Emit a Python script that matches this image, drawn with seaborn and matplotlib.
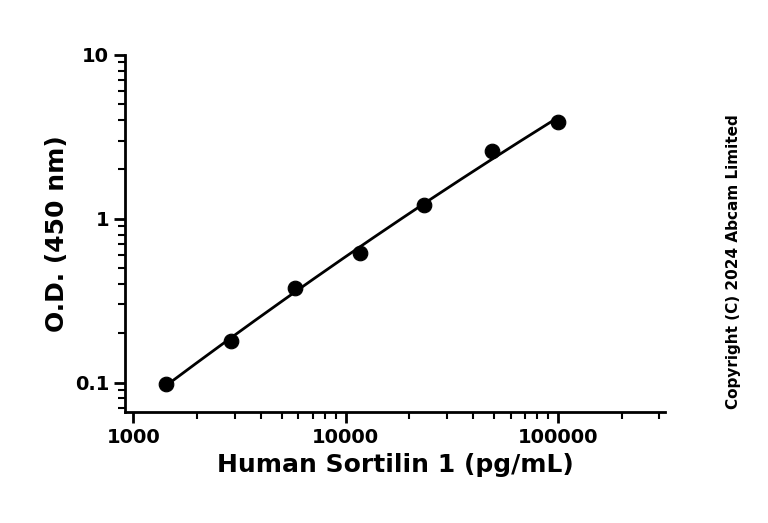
import numpy as np
import matplotlib
matplotlib.use("Agg")
import matplotlib.pyplot as plt
import seaborn as sns
from matplotlib.ticker import FixedLocator, FixedFormatter

sns.set_style("ticks")
plt.rcParams['font.family'] = ['DejaVu Sans']
plt.rcParams['text.color'] = 'black'
plt.rcParams['axes.labelcolor'] = 'black'
plt.rcParams['xtick.color'] = 'black'
plt.rcParams['ytick.color'] = 'black'
plt.rcParams['axes.edgecolor'] = 'black'

# standard curve readings
conc = [1430, 2880, 5800, 11700, 23400, 49000, 100000]
od = [0.098, 0.18, 0.38, 0.62, 1.22, 2.6, 3.9]

fig = plt.figure(figsize=(7.68, 5.23), dpi=100)
ax = fig.add_axes([0.163, 0.212, 0.703, 0.683])

# fitted curve (quadratic in log-log space)
lx, ly = np.log10(conc), np.log10(od)
coef = np.polyfit(lx, ly, 2)
xs = np.linspace(lx[0], lx[-1], 200)
ax.plot(10 ** xs, 10 ** np.polyval(coef, xs), color='black', lw=2)
sns.scatterplot(x=conc, y=od, ax=ax, color='black', s=110, edgecolor='black', zorder=3)

ax.set_xscale('log')
ax.set_yscale('log')
ax.set_xlim(916, 320000)
ax.set_ylim(0.066, 10)

ax.xaxis.set_major_locator(FixedLocator([1000, 10000, 100000]))
ax.xaxis.set_major_formatter(FixedFormatter(['1000', '10000', '100000']))
ax.xaxis.set_minor_locator(FixedLocator([2000, 3000, 4000, 5000, 6000, 7000, 8000, 9000,
                                         20000, 30000, 40000, 50000, 60000, 70000, 80000, 90000,
                                         200000, 300000]))
ax.yaxis.set_major_locator(FixedLocator([0.1, 1, 10]))
ax.yaxis.set_major_formatter(FixedFormatter(['0.1', '1', '10']))
ax.yaxis.set_minor_locator(FixedLocator([0.07, 0.08, 0.09, 0.2, 0.3, 0.4, 0.5, 0.6, 0.7, 0.8, 0.9,
                                         2, 3, 4, 5, 6, 7, 8, 9]))

for s in ['left', 'bottom']:
    ax.spines[s].set_linewidth(2)
sns.despine(ax=ax)
ax.tick_params(which='major', width=2, length=8, labelsize=14)
ax.tick_params(which='minor', width=1.5, length=5)
for lab in ax.get_xticklabels() + ax.get_yticklabels():
    lab.set_fontweight('bold')

ax.set_xlabel('Human Sortilin 1 (pg/mL)', fontsize=18, fontweight='bold')
ax.set_ylabel('O.D. (450 nm)', fontsize=18, fontweight='bold')

fig.text(0.955, 0.5, 'Copyright (C) 2024 Abcam Limited', rotation=90,
         fontsize=11, fontweight='bold', va='center', ha='center')

fig.savefig('out.png', dpi=100)
